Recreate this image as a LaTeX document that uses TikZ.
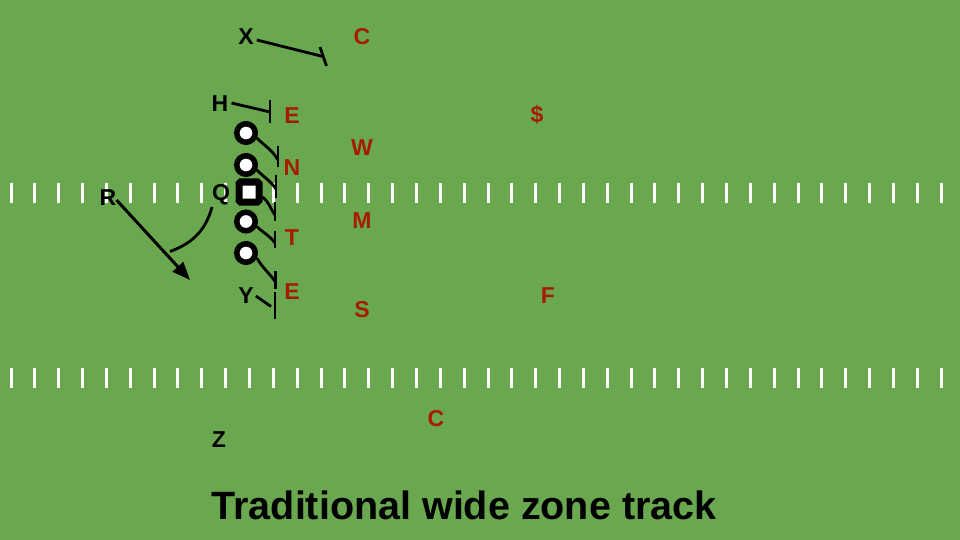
\documentclass[tikz,border=0pt]{standalone}
\usepackage{fontspec}
\setmainfont{Liberation Sans}
\usetikzlibrary{arrows.meta}
\definecolor{field}{HTML}{6AA84F}
\definecolor{dred}{HTML}{A61C00}
\begin{document}
\begin{tikzpicture}[x=1pt,y=-1pt,
  off/.style={font=\fontsize{23}{23}\selectfont\bfseries, text=black, inner sep=0pt},
  def/.style={off, text=dred},
  lineman/.style={circle, draw=black, line width=5.5pt, fill=white, minimum size=18.5pt, inner sep=0pt},
  snapper/.style={rectangle, draw=black, line width=7pt, fill=white, minimum size=20pt, inner sep=0pt, rounded corners=1.5pt},
  blk/.style={line width=2.8pt, draw=black},
  hashmark/.style={line width=3pt, draw=white}]
\fill[field] (0,0) rectangle (960,540);
\useasboundingbox (0,0) rectangle (960,540);
% hash marks
\foreach \i in {0,...,39}{
  \draw[hashmark] ({11+23.85*\i},183) -- ({11+23.85*\i},203);
  \draw[hashmark] ({11+23.85*\i},367.5) -- ({11+23.85*\i},388);
}
% offense labels
\node[off] (X) at (246,37) {X};
\node[off] (H) at (220,104) {H};
\node[off] (Q) at (221,195) {Q};
\node[off] (R) at (108,198) {R};
\node[off] (Y) at (246,296) {Y};
\node[off] (Z) at (219,440) {Z};
% defense labels
\node[def] (C1) at (362,37) {C};
\node[def] (E1) at (292,116) {E};
\node[def] (SS) at (537,115) {\$};
\node[def] (W) at (362,148) {W};
\node[def] (N) at (292,168) {N};
\node[def] (M) at (362,221) {M};
\node[def] (T) at (292,238) {T};
\node[def] (E2) at (292,292) {E};
\node[def] (S) at (362,310) {S};
\node[def] (F) at (548,296) {F};
\node[def] (C2) at (436,419) {C};
% offensive line
\node[lineman] (o1) at (246,133) {};
\node[lineman] (o2) at (246,165) {};
\node[snapper] (o3) at (249,192) {};
\node[lineman] (o4) at (246,221.5) {};
\node[lineman] (o5) at (246,253) {};
% block bars
\coordinate (b1t) at (278,146); \coordinate (b1b) at (278,167); \coordinate (b1) at (278,160);
\coordinate (b2t) at (276,175); \coordinate (b2b) at (276,198); \coordinate (b2) at (276,189);
\coordinate (b3t) at (275,202); \coordinate (b3b) at (275,221); \coordinate (b3) at (275,215);
\coordinate (b4t) at (275,231); \coordinate (b4b) at (275,248); \coordinate (b4) at (275,243);
\coordinate (b5t) at (275.5,271); \coordinate (b5b) at (275.5,289); \coordinate (b5) at (275.5,282);
\coordinate (byt) at (275,292); \coordinate (byb) at (275,319); \coordinate (by) at (271,306.5);
\coordinate (bht) at (270,100); \coordinate (bhb) at (270,123); \coordinate (bh) at (270,112);
\coordinate (bxt) at (320,47); \coordinate (bxb) at (326.5,66); \coordinate (bx) at (323,56.5);
\draw[blk] (b1t) -- (b1b); \draw[blk] (b2t) -- (b2b); \draw[blk] (b3t) -- (b3b);
\draw[blk] (b4t) -- (b4b); \draw[blk] (b5t) -- (b5b); \draw[blk] (byt) -- (byb);
\draw[blk] (bht) -- (bhb); \draw[blk] (bxt) -- (bxb);
% block lines
\draw[blk] (o1.-25) to[out=-45,in=120] (b1);
\draw[blk] (o2.-25) to[out=-45,in=125] (b2);
\draw[blk] (o3.-20) to[out=-40,in=125] (b3);
\draw[blk] (o4.-25) to[out=-45,in=125] (b4);
\draw[blk] (o5.-25) to[out=-60,in=125] (b5);
\draw[blk] (Y.east) ++(2,0) coordinate (ys) (ys) -- (by);
\draw[blk] (H.east) ++(3,-1) coordinate (hs) (hs) -- (bh);
\draw[blk] (X.east) ++(3,3) coordinate (xs) (xs) -- (bx);
% Q path
\coordinate (qs) at (212,207);
\coordinate (qe) at (170,251.5);
\draw[blk] (qs) to[out=-105,in=20] (qe);
% R arrow
\coordinate (rs) at (116.5,200);
\coordinate (rt) at (190,280);
\draw[line width=3pt, -{Triangle[length=18pt,width=14pt]}] (rs) -- (rt);
% title
\node[font=\fontsize{39.5}{39.5}\selectfont\bfseries, inner sep=0pt, anchor=base] (title) at (464,519.5) {Traditional wide zone track};
\end{tikzpicture}
\end{document}
